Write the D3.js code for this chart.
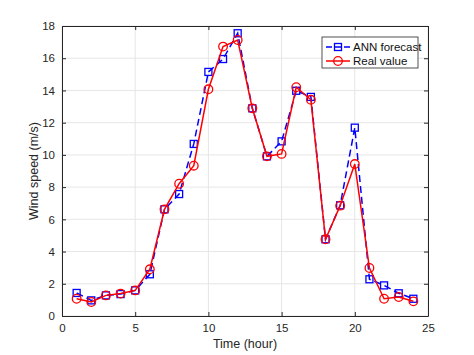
<!DOCTYPE html>
<html><head><meta charset="utf-8">
<script src="https://cdn.jsdelivr.net/npm/d3@7"></script>
<style>body{margin:0;background:#fff}svg{display:block;font-family:"Liberation Sans",Arial,sans-serif}</style>
</head><body>
<svg id="c" width="474" height="355"></svg>
<script>
const hours = [1,2,3,4,5,6,7,8,9,10,11,12,13,14,15,16,17,18,19,20,21,22,23,24];
const annForecast = [1.43,0.97,1.28,1.36,1.59,2.59,6.62,7.57,10.68,15.15,15.95,17.55,12.89,9.91,10.84,13.98,13.6,4.76,6.87,11.69,2.28,1.9,1.41,1.07];
const realValue = [1.07,0.87,1.28,1.39,1.59,2.9,6.62,8.21,9.33,14.07,16.72,17.13,12.89,9.91,10.06,14.2,13.42,4.76,6.85,9.43,2.98,1.07,1.18,0.91];
const xTicks = [0,5,10,15,20,25];
const yTicks = [0,2,4,6,8,10,12,14,16,18];
const seriesNames = ["ANN forecast","Real value"];

const svg = d3.select("#c");
const L=62, R=428, T=26, B=316;
const x = d3.scaleLinear().domain([0,25]).range([L,R]);
const y = d3.scaleLinear().domain([0,18]).range([B,T]);

// grid
const g = svg.append("g");
g.selectAll(".gx").data(xTicks).join("line").attr("x1",d=>x(d)).attr("x2",d=>x(d)).attr("y1",T).attr("y2",B).attr("stroke","#e6e6e6").attr("stroke-width",1);
g.selectAll(".gy").data(yTicks).join("line").attr("y1",d=>y(d)).attr("y2",d=>y(d)).attr("x1",L).attr("x2",R).attr("stroke","#e6e6e6").attr("stroke-width",1);

// axes
const axB = d3.axisBottom(x).tickValues(xTicks).tickSize(-4).tickPadding(8).tickSizeOuter(0);
const axL = d3.axisLeft(y).tickValues(yTicks).tickSize(-4).tickPadding(7).tickSizeOuter(0);
const axT = d3.axisTop(x).tickValues(xTicks).tickSize(-4).tickFormat("").tickSizeOuter(0);
const axR = d3.axisRight(y).tickValues(yTicks).tickSize(-4).tickFormat("").tickSizeOuter(0);
function style(s){s.selectAll("path,line").attr("stroke","#262626");s.selectAll("text").attr("fill","#262626").attr("font-size","11.5px").attr("font-family","Liberation Sans, Arial, sans-serif");}
svg.append("g").attr("transform",`translate(0,${B})`).call(axB).call(style);
svg.append("g").attr("transform",`translate(${L},0)`).call(axL).call(style);
svg.append("g").attr("transform",`translate(0,${T})`).call(axT).call(style);
svg.append("g").attr("transform",`translate(${R},0)`).call(axR).call(style);

// labels
svg.append("text").attr("x",(L+R)/2).attr("y",348).attr("text-anchor","middle").attr("font-size","12.5px").attr("fill","#262626").text("Time (hour)");
svg.append("text").attr("transform",`translate(38,${(T+B)/2}) rotate(-90)`).attr("text-anchor","middle").attr("font-size","12.5px").attr("fill","#262626").text("Wind speed (m/s)");

const line = d3.line().x((d,i)=>x(hours[i])).y(d=>y(d));
// ANN
svg.append("path").datum(annForecast).attr("d",line).attr("fill","none").attr("stroke","#0000ff").attr("stroke-width",1.5).attr("stroke-dasharray","7,4");
svg.selectAll(".sq").data(annForecast).join("rect").attr("x",(d,i)=>x(hours[i])-3.5).attr("y",d=>y(d)-3.5).attr("width",7).attr("height",7).attr("fill","none").attr("stroke","#0000ff").attr("stroke-width",1.3);
// Real
svg.append("path").datum(realValue).attr("d",line).attr("fill","none").attr("stroke","#ff0000").attr("stroke-width",1.5);
svg.selectAll(".ci").data(realValue).join("circle").attr("cx",(d,i)=>x(hours[i])).attr("cy",d=>y(d)).attr("r",4.3).attr("fill","none").attr("stroke","#ff0000").attr("stroke-width",1.3);

// legend
const lg = svg.append("g");
lg.append("rect").attr("x",322).attr("y",37).attr("width",96).attr("height",31).attr("fill","#fff").attr("stroke","#262626").attr("stroke-width",0.8);
const colors=["#0000ff","#ff0000"];
seriesNames.forEach((n,i)=>{
  const yy = 47+i*14;
  lg.append("line").attr("x1",326).attr("x2",350).attr("y1",yy).attr("y2",yy).attr("stroke",colors[i]).attr("stroke-width",1.5).attr("stroke-dasharray",i===0?"6,3":null);
  if(i===0) lg.append("rect").attr("x",334.5).attr("y",yy-3.5).attr("width",7).attr("height",7).attr("fill","none").attr("stroke",colors[i]).attr("stroke-width",1.3);
  else lg.append("circle").attr("cx",338).attr("cy",yy).attr("r",4.3).attr("fill","none").attr("stroke",colors[i]).attr("stroke-width",1.3);
  lg.append("text").attr("x",353).attr("y",yy+4).attr("font-size","11.5px").attr("fill","#111").text(n);
});
</script>
</body></html>
